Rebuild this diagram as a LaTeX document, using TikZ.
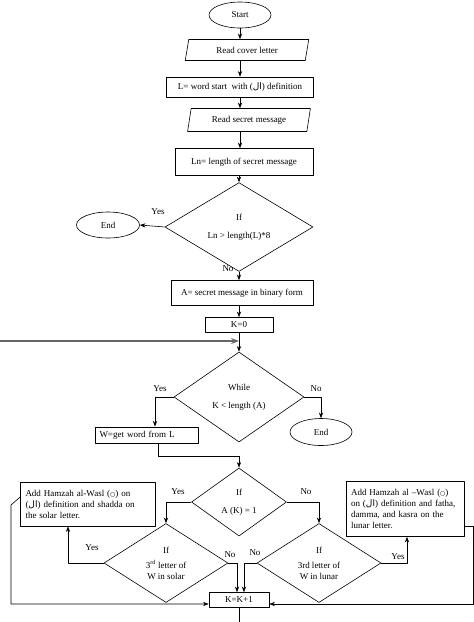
\documentclass[tikz,border=0pt]{standalone}
\usepackage{fontspec}
\setmainfont{Liberation Serif}
\newfontfamily\arabicfont[Script=Arabic]{DejaVu Sans}
\newfontfamily\symfont{DejaVu Sans}
\TeXXeTstate=1
\usepackage{tikz}
\usetikzlibrary{arrows.meta,shapes.geometric}
\tikzset{
  every picture/.style={font=\fontsize{9}{11}\selectfont, line join=round, >=Stealth},
  flow/.style={line width=0.6pt},
  proc/.style={draw, flow, rectangle, inner sep=1pt},
  io/.style={draw, flow, trapezium, trapezium left angle=77, trapezium right angle=103, trapezium stretches=true, inner sep=1pt},
  term/.style={draw, flow, ellipse, inner sep=0pt},
  cond/.style={draw, flow, diamond, inner sep=0pt, align=center},
  note/.style={proc, align=left, inner sep=5pt},
}
\newcommand{\lam}{({\arabicfont\beginR ال\endR})}
\newcommand{\wasl}{({\symfont\fontsize{6}{6}\selectfont ○})}

\begin{document}
\begin{tikzpicture}[x=1pt,y=-1pt,flow]
\useasboundingbox (0,0) rectangle (474,622);
% top part
\node[term,minimum width=62pt,minimum height=26pt] (start) at (240,15) {Start};
\node[io,minimum width=124pt,minimum height=21pt] (readcover) at (247,50) {Read cover letter};
\node[proc,minimum width=147pt,minimum height=20pt] (ldef) at (240,87) {L= word start\ \ with \lam{} definition};
\node[io,minimum width=123pt,minimum height=23pt] (readmsg) at (249,120) {Read secret message};
\node[proc,minimum width=138pt,minimum height=27pt] (lnlen) at (244,162) {Ln= length of secret message};
\node[cond,minimum width=148pt,minimum height=74pt] (iflen) at (239,227) {If\\[7pt]Ln > length(L)*8};
\node[term,minimum width=63pt,minimum height=26pt] (endone) at (108,225) {End};
\node[proc,minimum width=142pt,minimum height=25pt] (abin) at (242,293) {A= secret message in binary form};
\node[proc,minimum width=68pt,minimum height=15pt] (kzero) at (239,325) {K=0};
% loop
\node[cond,minimum width=130pt,minimum height=90pt] (while) at (239,397) {While\\[7pt]K < length (A)};
\node[proc,align=left,text width=95pt,inner sep=4pt,minimum height=16pt] (wget) at (147,435) {W=get word from L};
\node[term,minimum width=62pt,minimum height=27pt] (endtwo) at (321,432) {End};
\node[cond,minimum width=95pt,minimum height=68pt] (ifbit) at (239,502) {If\\[7pt]A (K) = 1};
\node[cond,minimum width=124pt,minimum height=79pt] (ifsolar) at (166,563) {If\\[4pt]3\textsuperscript{rd} letter of\\W in solar};
\node[cond,minimum width=124pt,minimum height=79pt] (iflunar) at (319,563) {If\\[4pt]3rd letter of\\W in lunar};
\node[note,text width=125pt,minimum height=44pt] (solar) at (88,504) {Add Hamzah al-Wasl \wasl{} on\\\lam{} definition and shadda on\\the solar letter.};
\node[note,text width=108pt,minimum height=55pt] (lunar) at (405,509) {Add Hamzah al --Wasl \wasl{}\\on \lam{} definition and fatha,\\damma, and kasra on the\\lunar letter.};
\node[proc,minimum width=60pt,minimum height=15pt] (kinc) at (239,600) {K=K+1};
% labels
\node (yesone) at (158,212) {Yes};
\node (noone) at (228,269) {No};
\node (yestwo) at (160,389) {Yes};
\node (notwo) at (316,389) {No};
\node (yesthree) at (178,492) {Yes};
\node (nothree) at (306,492) {No};
\node (yesfour) at (92,548) {Yes};
\node (nofour) at (230,555) {No};
\node (yesfive) at (398,557) {Yes};
\node (nofive) at (255,553) {No};
% free ends
\coordinate (loopin) at (239,341);
\coordinate (loopstart) at (0,341);
\coordinate (wjoin) at (239,456);
\coordinate (sbend) at (11,505);
\coordinate (lbend) at (473,526);
\coordinate (kout) at (239,622);
% connectors
\draw[->] (start.south) -- (start.south |- readcover.north);
\draw[->] (start.south |- readcover.south) -- (start.south |- ldef.north);
\draw[->] (start.south |- ldef.south) -- (start.south |- readmsg.north);
\draw[->] (start.south |- readmsg.south) -- (start.south |- lnlen.north);
\draw[->] (iflen.north |- lnlen.south) -- (iflen.north);
\draw[->] (iflen.west) -- (endone.east);
\draw[->] (iflen.south) -- (iflen.south |- abin.north);
\draw[->] (kzero.north |- abin.south) -- (kzero.north);
\draw (kzero.south) -- (loopin);
\draw[->,line width=1.1pt,black!60] (loopstart) -- (loopin);
\draw[->] (loopin) -- (while.north);
\draw[->] (while.west) -| ([xshift=8pt]wget.north);
\draw[->] (while.east) -| (endtwo.north);
\draw ([xshift=11pt]wget.south) |- (wjoin);
\draw[->] (wjoin) -- (ifbit.north);
\draw[->] (ifbit.west) -| (ifsolar.north);
\draw[->] (ifbit.east) -| (iflunar.north);
\draw[->] (ifsolar.west) -| ([xshift=-20pt]solar.south);
\draw[->] (ifsolar.east) -| ([xshift=-2pt]kinc.north);
\draw[->] (iflunar.west) -| ([xshift=5pt]kinc.north);
\draw[->] (iflunar.east) -| ([xshift=2pt]lunar.south);
\draw[->] ([yshift=7pt]solar.west) -- (sbend) |- ([yshift=-4pt]kinc.west);
\draw[->] ([yshift=-17pt]lunar.east) -- (lbend) |- ([yshift=-4pt]kinc.east);
\draw (kinc.south) -- (kout);
\end{tikzpicture}
\end{document}
